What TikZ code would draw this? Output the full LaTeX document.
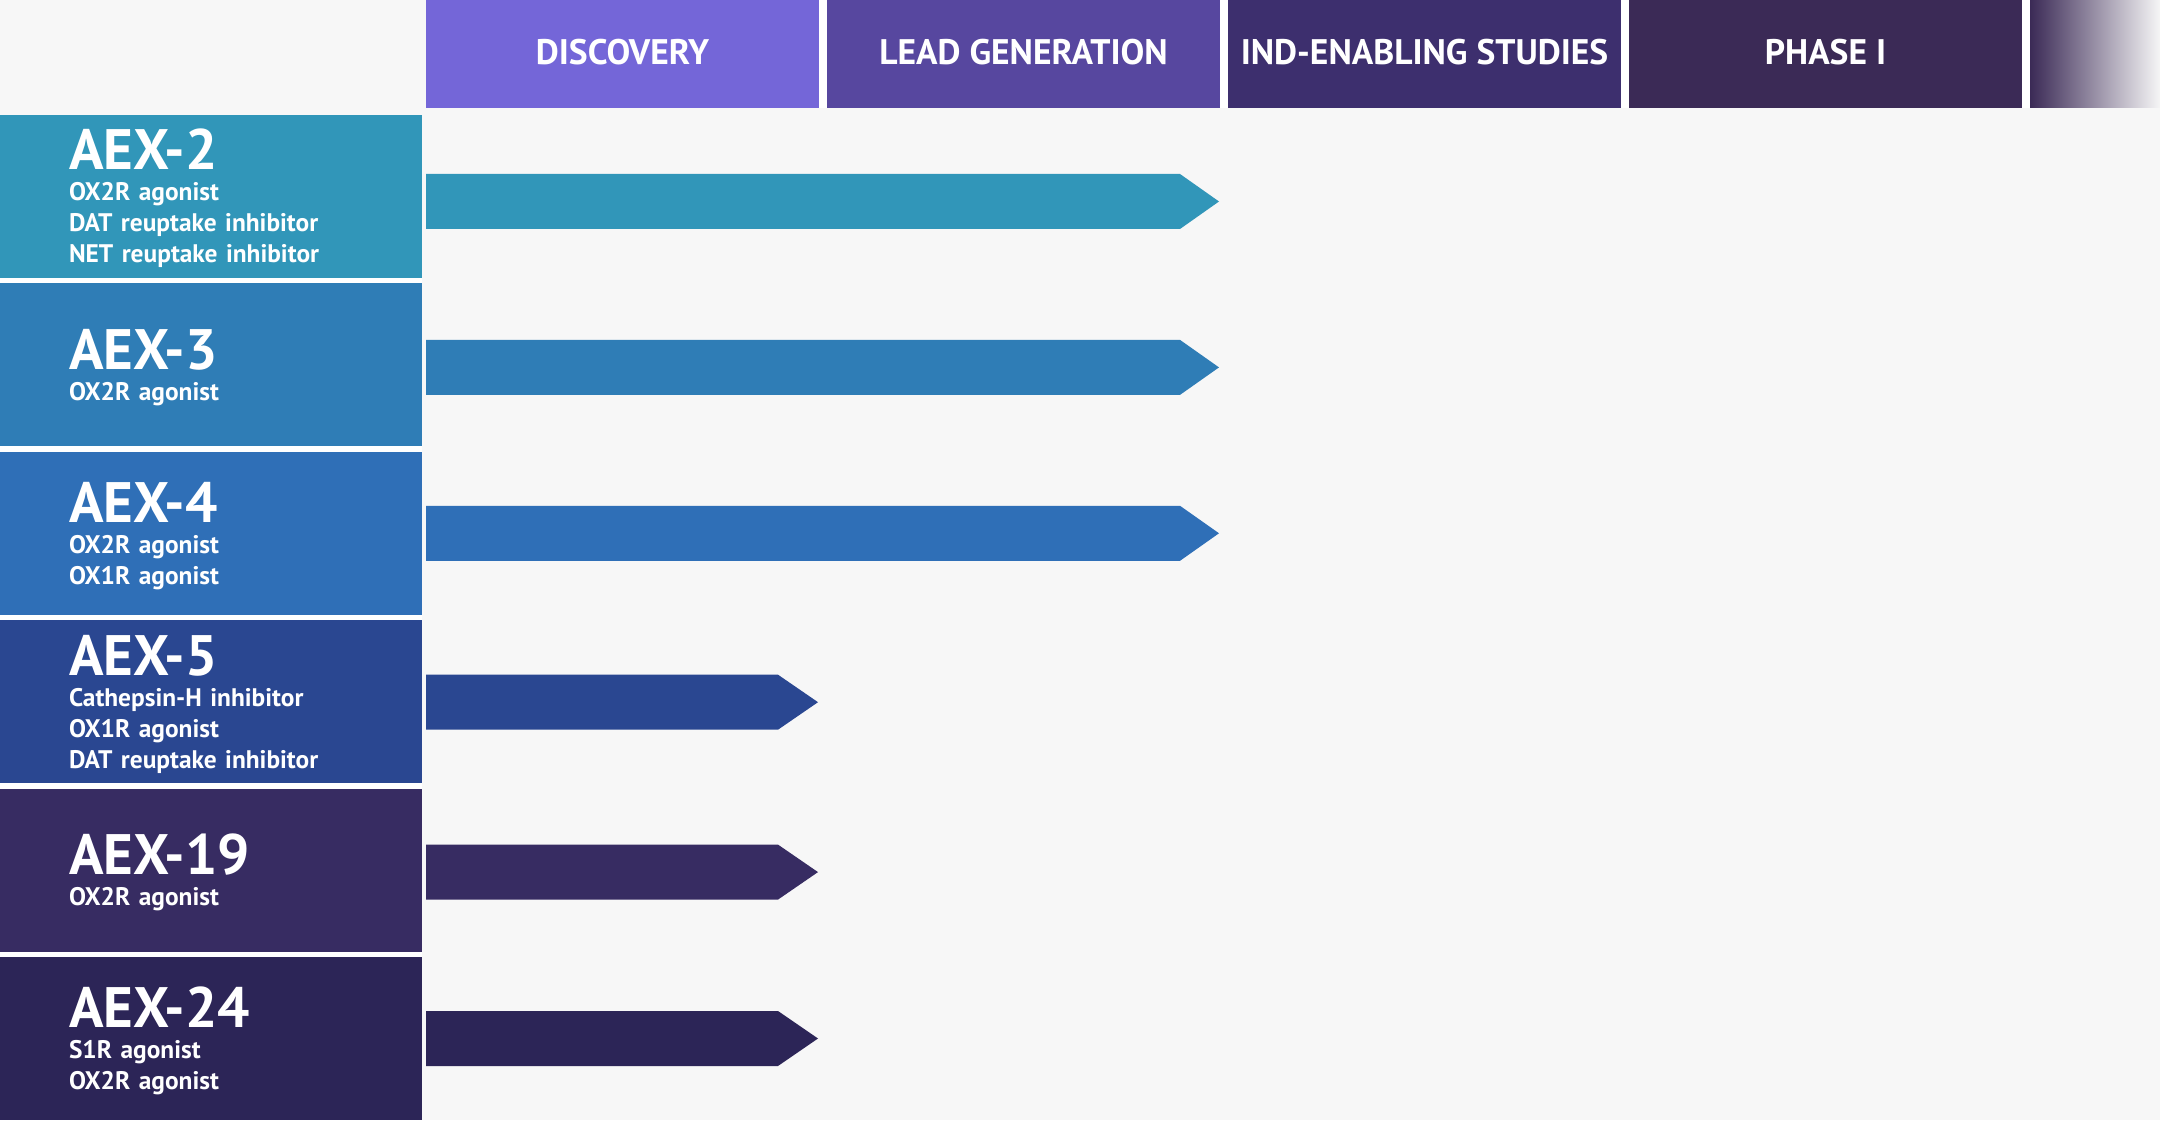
\documentclass[tikz,border=0pt]{standalone}
\usepackage{fontspec}
\setmainfont{PT Sans}
\usetikzlibrary{positioning}

\definecolor{bg}{HTML}{F7F7F7}
\definecolor{discc}{HTML}{7466D8}
\definecolor{leadc}{HTML}{57479F}
\definecolor{indc}{HTML}{3D2F6E}
\definecolor{phc}{HTML}{3B2A56}
\definecolor{c2}{HTML}{3196B9}
\definecolor{c3}{HTML}{2F7DB6}
\definecolor{c4}{HTML}{2F6FB7}
\definecolor{c5}{HTML}{2A4791}
\definecolor{c19}{HTML}{372C62}
\definecolor{c24}{HTML}{2C2557}

\begin{document}
\begin{tikzpicture}[x=1pt, y=1pt,
    every node/.style = {inner sep=0pt, outer sep=0pt, text=white},
    phase/.style = {minimum width=393pt, minimum height=108pt,
      text height=25pt, text depth=4pt,
      font=\fontsize{35.5}{35.5}\selectfont\bfseries},
    drug/.style = {minimum width=422pt, minimum height=163pt,
      text width=284pt, align=left, text height=40pt, text depth=#1,
      font=\fontsize{25.4}{31}\selectfont\bfseries}]

  \useasboundingbox (0,0) rectangle (2160,1120);
  \fill[bg] (0,0) rectangle (2160,1120);
  \fill[white] (426,1012) rectangle (2160,1120);
  \fill[white] (0,0) rectangle (422,1005);

  % phases
  \node[phase, fill=discc, anchor=north west] (disc) at (426,1120) {DISCOVERY};
  \node[phase, fill=leadc, right=8pt of disc] (lead) {LEAD GENERATION};
  \node[phase, fill=indc, right=8pt of lead] (ind) {IND-ENABLING STUDIES};
  \node[phase, fill=phc, right=8pt of ind] (ph1) {PHASE I};
  \node[phase, left color=phc, right color=bg, minimum width=131pt,
    right=8pt of ph1] (more) {};

  % programmes
  \node[drug=93pt, fill=c2, anchor=north west] (aex2) at (0,1005)
    {{\fontsize{57}{57}\selectfont AEX-2}\\OX2R agonist\\DAT reuptake inhibitor\\NET reuptake inhibitor};
  \node[drug=31pt, fill=c3, below=5.4pt of aex2] (aex3)
    {{\fontsize{57}{57}\selectfont AEX-3}\\OX2R agonist};
  \node[drug=62pt, fill=c4, below=5.4pt of aex3] (aex4)
    {{\fontsize{57}{57}\selectfont AEX-4}\\OX2R agonist\\OX1R agonist};
  \node[drug=93pt, fill=c5, below=5.4pt of aex4] (aex5)
    {{\fontsize{57}{57}\selectfont AEX-5}\\Cathepsin-H inhibitor\\OX1R agonist\\DAT reuptake inhibitor};
  \node[drug=31pt, fill=c19, below=5.4pt of aex5] (aex19)
    {{\fontsize{57}{57}\selectfont AEX-19}\\OX2R agonist};
  \node[drug=62pt, fill=c24, below=5.4pt of aex19] (aex24)
    {{\fontsize{57}{57}\selectfont AEX-24}\\S1R agonist\\OX2R agonist};

  % progress bars
  \fill[c2] ([xshift=4pt,yshift=22.5pt]aex2.east) -- ++(754,0) -- ++(39,-27.5)
    -- ++(-39,-27.5) -- ++(-754,0) -- cycle;
  \fill[c3] ([xshift=4pt,yshift=25pt]aex3.east) -- ++(754,0) -- ++(39,-27.5)
    -- ++(-39,-27.5) -- ++(-754,0) -- cycle;
  \fill[c4] ([xshift=4pt,yshift=27.5pt]aex4.east) -- ++(754,0) -- ++(39,-27.5)
    -- ++(-39,-27.5) -- ++(-754,0) -- cycle;
  \fill[c5] ([xshift=4pt,yshift=27pt]aex5.east) -- ++(352,0) -- ++(40,-27.5)
    -- ++(-40,-27.5) -- ++(-352,0) -- cycle;
  \fill[c19] ([xshift=4pt,yshift=25.5pt]aex19.east) -- ++(352,0) -- ++(40,-27.5)
    -- ++(-40,-27.5) -- ++(-352,0) -- cycle;
  \fill[c24] ([xshift=4pt,yshift=27.5pt]aex24.east) -- ++(352,0) -- ++(40,-27.5)
    -- ++(-40,-27.5) -- ++(-352,0) -- cycle;
\end{tikzpicture}
\end{document}
